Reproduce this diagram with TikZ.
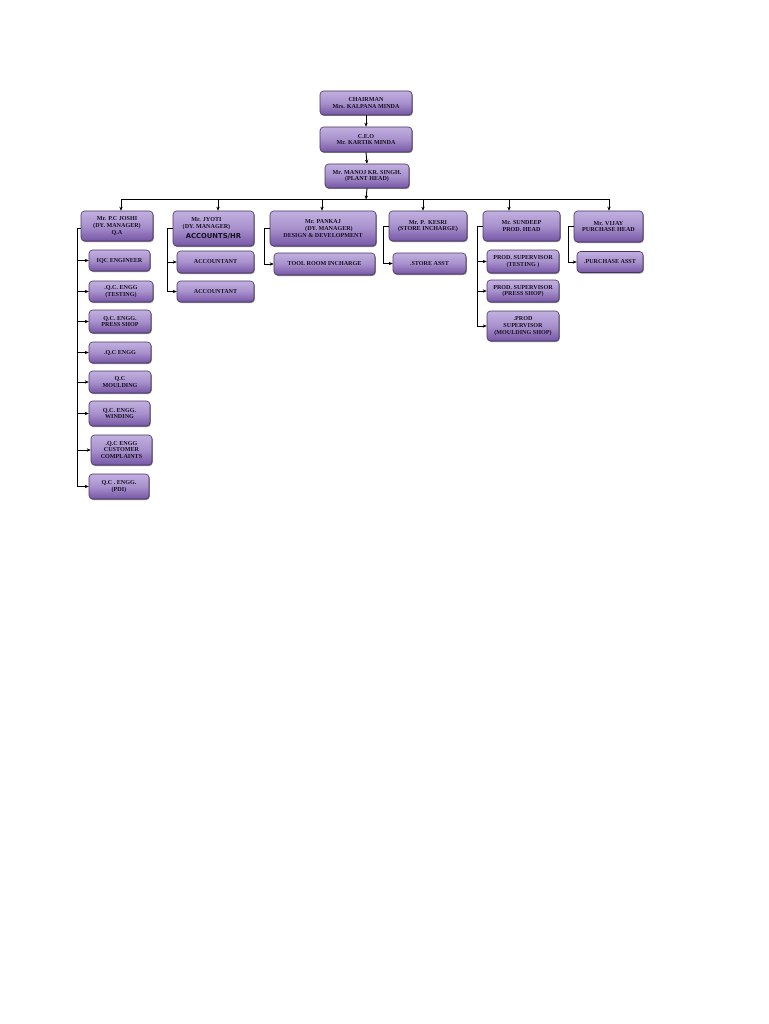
\documentclass[tikz,border=0pt]{standalone}
\usepackage{fontspec}
\setmainfont{Liberation Serif}
\newfontfamily\hdsans{DejaVu Sans}
\usetikzlibrary{arrows.meta,shadows}
\definecolor{boxtop}{HTML}{C2B0E0}
\definecolor{boxbot}{HTML}{7656A6}
\definecolor{boxline}{HTML}{46345F}
\definecolor{txt}{HTML}{15101F}
\tikzset{
  orgbox/.style={rounded corners=3.5pt, draw=boxline, line width=0.6pt,
    top color=boxtop, bottom color=boxbot, middle color=boxtop!65!boxbot,
    drop shadow={shadow xshift=0.8pt, shadow yshift=-1pt, fill=black!75, opacity=0.6},
    font=\bfseries\fontsize{6.1}{6.7}\selectfont, text=txt, align=center,
    inner sep=1pt},
  conn/.style={line width=0.9pt, draw=black},
  arr/.style={conn, -{Stealth[length=4pt,width=3.4pt]}},
}
\begin{document}
\begin{tikzpicture}[x=1pt,y=-1pt]
\useasboundingbox (0,0) rectangle (768,1024);
\fill[white] (0,0) rectangle (768,1024);
% top chain
\node[orgbox, minimum width=92, minimum height=24] (chair) at (366,103) {CHAIRMAN\\Mrs. KALPANA MINDA};
\node[orgbox, minimum width=92, minimum height=25] (ceo) at (366,139.5) {C.E.O\\Mr. KARTIK MINDA};
\node[orgbox, minimum width=84, minimum height=24] (plant) at (367,176) {Mr. MANOJ KR. SINGH.\\(PLANT HEAD)};
% department heads
\node[orgbox, minimum width=72, minimum height=30] (joshi) at (117,226) {Mr. P.C JOSHI\\(DY. MANAGER)\\Q.A};
\node[orgbox, minimum width=81, minimum height=35] (jyoti) at (213.5,228.5) {\hspace*{-14pt}Mr. JYOTI\\\hspace*{-14pt}(DY. MANAGER)\\[4pt]{\hdsans\fontsize{6.8}{7}\selectfont ACCOUNTS/HR}};
\node[orgbox, minimum width=106, minimum height=35] (pankaj) at (323,228.5) {Mr. PANKAJ\\\hspace*{12pt}(DY. MANAGER)\\DESIGN \& DEVELOPMENT};
\node[orgbox, minimum width=78, minimum height=30] (kesri) at (428,226) {Mr. P.\ \ KESRI\\(STORE INCHARGE)};
\node[orgbox, minimum width=77, minimum height=30] (sundeep) at (521.5,226) {Mr. SUNDEEP\\PROD. HEAD};
\node[orgbox, minimum width=69, minimum height=31] (vijay) at (608.5,226.5) {Mr. VIJAY\\PURCHASE HEAD};
% Joshi children
\node[orgbox, minimum width=61, minimum height=21] (q1) at (119.5,260.5) {IQC ENGINEER};
\node[orgbox, minimum width=64, minimum height=21] (q2) at (121,291.5) {.Q.C. ENGG\\(TESTING)};
\node[orgbox, minimum width=62, minimum height=23] (q3) at (120,321.5) {Q.C. ENGG.\\PRESS SHOP};
\node[orgbox, minimum width=62, minimum height=21] (q4) at (120,352.5) {.Q.C ENGG};
\node[orgbox, minimum width=62, minimum height=22] (q5) at (120,382) {Q.C\\MOULDING};
\node[orgbox, minimum width=61, minimum height=25] (q6) at (119.5,413.5) {Q.C. ENGG.\\WINDING};
\node[orgbox, minimum width=61, minimum height=30] (q7) at (121.5,450) {.Q.C ENGG\\CUSTOMER\\COMPLAINTS};
\node[orgbox, minimum width=60, minimum height=25] (q8) at (119,486.5) {Q.C . ENGG.\\(PDI)};
% Jyoti children
\node[orgbox, minimum width=77, minimum height=22] (a1) at (215.5,262) {ACCOUNTANT};
\node[orgbox, minimum width=77, minimum height=21] (a2) at (215.5,291.5) {ACCOUNTANT};
% Pankaj child
\node[orgbox, minimum width=101, minimum height=22] (t1) at (324.5,264) {TOOL ROOM INCHARGE};
% Kesri child
\node[orgbox, minimum width=73, minimum height=21] (s1) at (429.5,263.5) {.STORE ASST};
% Sundeep children
\node[orgbox, minimum width=72, minimum height=23] (p1) at (523,261.5) {PROD. SUPERVISOR\\(TESTING )};
\node[orgbox, minimum width=72, minimum height=22] (p2) at (523,291) {PROD. SUPERVISOR\\(PRESS SHOP)};
\node[orgbox, minimum width=72, minimum height=30] (p3) at (523,326) {.PROD\\SUPERVISOR\\(MOULDING SHOP)};
% Vijay child
\node[orgbox, minimum width=66, minimum height=21] (v1) at (610,262) {.PURCHASE ASST};
% top connectors
\draw[arr] (chair.south) -- (ceo.north);
\draw[arr] (ceo.south) -- (plant.north);
\coordinate (bus) at (366,199.5);
\draw[arr] (plant.south) -- (bus);
\draw[conn] ([xshift=4pt]joshi.north |- bus) -- ([xshift=0.5pt]vijay.north |- bus);
\foreach \h/\d in {joshi/4,jyoti/4.5,pankaj/-1,kesri/-5,sundeep/-12.5,vijay/0.5}
  \draw[arr] ([xshift=\d pt]\h.north |- bus) -- ([xshift=\d pt]\h.north);
% branch lines
\coordinate (jx) at (77,0);
\coordinate (ax) at (167,0);
\coordinate (tx) at (264,0);
\coordinate (sx) at (383,0);
\coordinate (px) at (477,0);
\coordinate (vx) at (568,0);
\foreach \c in {q1,q2,q3,q4,q5,q6,q7,q8}
  \draw[arr] ([yshift=-2pt]joshi.west) -- ([yshift=-2pt]joshi.west -| jx) |- (\c.west);
\foreach \c in {a1,a2}
  \draw[arr] (jyoti.west) -- (jyoti.west -| ax) |- (\c.west);
\draw[arr] (pankaj.west) -- (pankaj.west -| tx) |- (t1.west);
\draw[arr] (kesri.west) -- (kesri.west -| sx) |- (s1.west);
\foreach \c in {p1,p2,p3}
  \draw[arr] (sundeep.west) -- (sundeep.west -| px) |- (\c.west);
\draw[arr] (vijay.west) -- (vijay.west -| vx) |- (v1.west);
\end{tikzpicture}
\end{document}
